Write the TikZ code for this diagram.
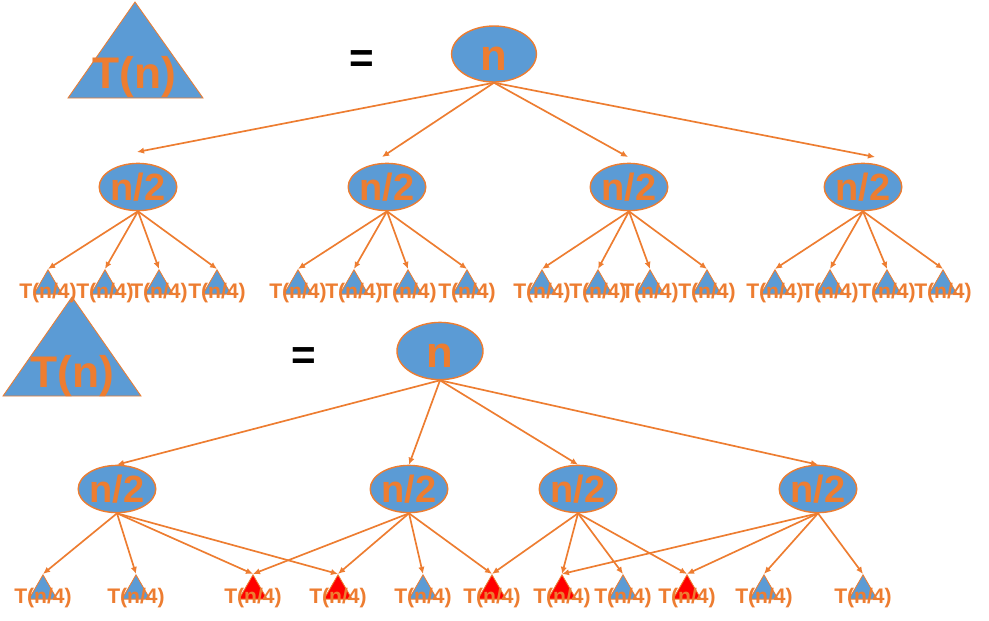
\documentclass[tikz,border=0pt]{standalone}
\usepackage{fontspec}
\setmainfont{Liberation Sans}
\usetikzlibrary{arrows.meta,shapes.geometric}
\definecolor{nodeblue}{HTML}{5B9BD5}
\definecolor{edgeorange}{HTML}{ED7D31}
\definecolor{dupred}{HTML}{FF0000}

\begin{document}
\begin{tikzpicture}[
        x=0.025cm, y=-0.025cm,
        root/.style={ellipse, draw=edgeorange, line width=1pt, fill=nodeblue,
                minimum width=2.12cm, minimum height=1.4cm, inner sep=0pt,
                text=edgeorange, font=\fontsize{31}{31}\selectfont\bfseries,
                text height=23pt, text depth=0pt},
        half/.style={ellipse, draw=edgeorange, line width=1pt, fill=nodeblue,
                minimum width=1.75cm, minimum height=1.18cm, inner sep=0pt,
                text=edgeorange, font=\fontsize{27}{27}\selectfont\bfseries},
        leaf/.style={regular polygon, regular polygon sides=3, draw=edgeorange,
                line width=0.6pt, fill=nodeblue, minimum size=0.81cm, inner sep=0pt},
        shared/.style={leaf, fill=dupred},
        leaflabel/.style={anchor=base, yshift=-0.1cm, inner sep=0pt, text=edgeorange,
                font=\fontsize{15}{15}\selectfont\bfseries},
        bigtri/.style={draw=edgeorange, line width=0.6pt, fill=nodeblue},
        bigtext/.style={anchor=base, inner sep=0pt, text=edgeorange,
                font=\fontsize{31.5}{31.5}\selectfont\bfseries},
        eqsign/.style={font=\fontsize{30}{30}\selectfont\bfseries},
        arrow/.style={-{Latex[length=5pt,width=4.5pt]}, draw=edgeorange, line width=1.2pt}
    ]
    \useasboundingbox (0,0) rectangle (989,620);

    % upper tree: four halves, each with its own four quarters
    \draw[bigtri] (68,98) -- (135,2) -- (203,98) -- cycle;
    \node[bigtext] (tn1) at (134,88) {T(n)};
    \node[eqsign] (eq1) at (362,62) {=};
    \node[root] (n) at (494,54) {n};

    \node[half] (h1) at (138,187) {n/2};
    \node[half] (h2) at (387,187) {n/2};
    \node[half] (h3) at (629,187) {n/2};
    \node[half] (h4) at (863,187) {n/2};

    \coordinate (c1) at (137,152);
    \coordinate (c2) at (382,157);
    \coordinate (c3) at (628,157);
    \coordinate (c4) at (875,157);

    % lower big triangle sits under the first row of labels
    \draw[bigtri] (3,396) -- (72,297) -- (141,396) -- cycle;
    \node[bigtext] (tn2) at (72,387) {T(n)};

    \node[leaf] (q1) at (48,286) {};   \node[leaflabel] (q1t) at (q1.south) {T(n/4)};
    \node[leaf] (q2) at (105,286) {};  \node[leaflabel] (q2t) at (q2.south) {T(n/4)};
    \node[leaf] (q3) at (159,286) {};  \node[leaflabel] (q3t) at (q3.south) {T(n/4)};
    \node[leaf] (q4) at (217,286) {};  \node[leaflabel] (q4t) at (q4.south) {T(n/4)};
    \node[leaf] (q5) at (298,286) {};  \node[leaflabel] (q5t) at (q5.south) {T(n/4)};
    \node[leaf] (q6) at (354,286) {};  \node[leaflabel] (q6t) at (q6.south) {T(n/4)};
    \node[leaf] (q7) at (408,286) {};  \node[leaflabel] (q7t) at (q7.south) {T(n/4)};
    \node[leaf] (q8) at (467,286) {};  \node[leaflabel] (q8t) at (q8.south) {T(n/4)};
    \node[leaf] (q9) at (542,286) {};  \node[leaflabel] (q9t) at (q9.south) {T(n/4)};
    \node[leaf] (q10) at (598,286) {}; \node[leaflabel] (q10t) at (q10.south) {T(n/4)};
    \node[leaf] (q11) at (650,286) {}; \node[leaflabel] (q11t) at (q11.south) {T(n/4)};
    \node[leaf] (q12) at (707,286) {}; \node[leaflabel] (q12t) at (q12.south) {T(n/4)};
    \node[leaf] (q13) at (775,286) {}; \node[leaflabel] (q13t) at (q13.south) {T(n/4)};
    \node[leaf] (q14) at (830,286) {}; \node[leaflabel] (q14t) at (q14.south) {T(n/4)};
    \node[leaf] (q15) at (887,286) {}; \node[leaflabel] (q15t) at (q15.south) {T(n/4)};
    \node[leaf] (q16) at (943,286) {}; \node[leaflabel] (q16t) at (q16.south) {T(n/4)};

    \draw[arrow] (n.south) -- (c1);
    \draw[arrow] (n.south) -- (c2);
    \draw[arrow] (n.south) -- (c3);
    \draw[arrow] (n.south) -- (c4);

    \draw[arrow] (h1.south) -- (q1.north);
    \draw[arrow] (h1.south) -- (q2.north);
    \draw[arrow] (h1.south) -- (q3.north);
    \draw[arrow] (h1.south) -- (q4.north);
    \draw[arrow] (h2.south) -- (q5.north);
    \draw[arrow] (h2.south) -- (q6.north);
    \draw[arrow] (h2.south) -- (q7.north);
    \draw[arrow] (h2.south) -- (q8.north);
    \draw[arrow] (h3.south) -- (q9.north);
    \draw[arrow] (h3.south) -- (q10.north);
    \draw[arrow] (h3.south) -- (q11.north);
    \draw[arrow] (h3.south) -- (q12.north);
    \draw[arrow] (h4.south) -- (q13.north);
    \draw[arrow] (h4.south) -- (q14.north);
    \draw[arrow] (h4.south) -- (q15.north);
    \draw[arrow] (h4.south) -- (q16.north);

    % lower tree: neighbouring halves share quarters (red)
    \node[eqsign] (eq2) at (304,359) {=};
    \node[root, minimum width=2.15cm, minimum height=1.43cm] (m) at (440,351) {n};

    \node[half, minimum width=1.85cm] (g1) at (117,489) {n/2};
    \node[half, minimum width=1.85cm] (g2) at (409,489) {n/2};
    \node[half, minimum width=1.85cm] (g3) at (578,489) {n/2};
    \node[half, minimum width=1.85cm] (g4) at (818,489) {n/2};

    \node[leaf] (r1) at (43,591) {};    \node[leaflabel] (r1t) at (r1.south) {T(n/4)};
    \node[leaf] (r2) at (136,591) {};   \node[leaflabel] (r2t) at (r2.south) {T(n/4)};
    \node[shared] (r3) at (253,591) {}; \node[leaflabel] (r3t) at (r3.south) {T(n/4)};
    \node[shared] (r4) at (338,591) {}; \node[leaflabel] (r4t) at (r4.south) {T(n/4)};
    \node[leaf] (r5) at (423,591) {};   \node[leaflabel] (r5t) at (r5.south) {T(n/4)};
    \node[shared] (r6) at (492,591) {}; \node[leaflabel] (r6t) at (r6.south) {T(n/4)};
    \node[shared] (r7) at (562,591) {}; \node[leaflabel] (r7t) at (r7.south) {T(n/4)};
    \node[leaf] (r8) at (623,591) {};   \node[leaflabel] (r8t) at (r8.south) {T(n/4)};
    \node[shared] (r9) at (687,591) {}; \node[leaflabel] (r9t) at (r9.south) {T(n/4)};
    \node[leaf] (r10) at (764,591) {};  \node[leaflabel] (r10t) at (r10.south) {T(n/4)};
    \node[leaf] (r11) at (863,591) {};  \node[leaflabel] (r11t) at (r11.south) {T(n/4)};

    \draw[arrow] (m.south) -- (g1.north);
    \draw[arrow] (m.south) -- (g2.north);
    \draw[arrow] (m.south) -- (g3.north);
    \draw[arrow] (m.south) -- (g4.north);

    \draw[arrow] (g1.south) -- (r1.north);
    \draw[arrow] (g1.south) -- (r2.north);
    \draw[arrow] (g1.south) -- (r3.north);
    \draw[arrow] (g1.south) -- (r4.north);
    \draw[arrow] (g2.south) -- (r3.north);
    \draw[arrow] (g2.south) -- (r4.north);
    \draw[arrow] (g2.south) -- (r5.north);
    \draw[arrow] (g2.south) -- (r6.north);
    \draw[arrow] (g3.south) -- (r6.north);
    \draw[arrow] (g3.south) -- (r7.north);
    \draw[arrow] (g3.south) -- (r8.north);
    \draw[arrow] (g3.south) -- (r9.north);
    \draw[arrow] (g4.south) -- (r7.north);
    \draw[arrow] (g4.south) -- (r9.north);
    \draw[arrow] (g4.south) -- (r10.north);
    \draw[arrow] (g4.south) -- (r11.north);
\end{tikzpicture}
\end{document}
